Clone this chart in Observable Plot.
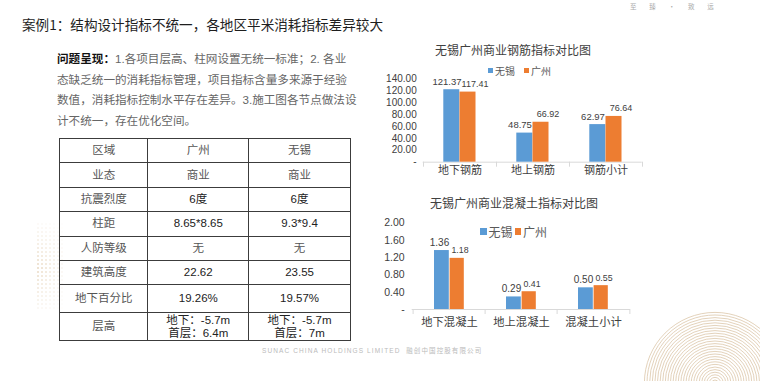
<!DOCTYPE html>
<html><head><meta charset="utf-8">
<script src="https://cdn.jsdelivr.net/npm/d3@7"></script>
<script src="https://cdn.jsdelivr.net/npm/@observablehq/plot@0.6"></script>
<style>
html,body{margin:0;padding:0;}
body{width:760px;height:381px;overflow:hidden;background:#fff;position:relative;font-family:"Liberation Sans","Noto Sans CJK SC",sans-serif;}
.abs{position:absolute;}
#title{left:22px;top:14px;font-size:13.6px;color:#1e1e1e;white-space:nowrap;font-family:"Noto Sans CJK SC",sans-serif;}
#para{left:57px;top:48px;width:285px;font-size:11.6px;line-height:20.6px;color:#666;}
#para div{text-align:justify;text-align-last:justify;white-space:nowrap;}
#para div.last{text-align-last:left;}
#para b{color:#111;font-family:"Noto Sans CJK SC",sans-serif;}
#tbl{left:59px;top:138px;border-collapse:collapse;width:292px;font-size:11.5px;}
#tbl td{border:1px solid #3c3c3c;text-align:center;padding:0;color:#555;line-height:13px;}
#tbl td.num{color:#222;}
.ctitle{font-size:12px;color:#404040;white-space:nowrap;font-family:"Noto Sans CJK SC",sans-serif;transform:translateX(-50%);}
.leg{white-space:nowrap;color:#595959;font-family:"Noto Sans CJK SC",sans-serif;}
.leg span.sw{display:inline-block;vertical-align:middle;}
#footer{left:262px;top:345px;font-size:6.5px;color:#bbb;letter-spacing:1.1px;white-space:nowrap;}
</style></head><body>
<div id="title" class="abs">案例1：结构设计指标不统一，各地区平米消耗指标差异较大</div>
<div id="motto"></div>
<div id="para" class="abs">
<div><b>问题呈现：</b>1.各项目层高、柱网设置无统一标准；2. 各业</div>
<div>态缺乏统一的消耗指标管理，项目指标含量多来源于经验</div>
<div>数值，消耗指标控制水平存在差异。3.施工图各节点做法设</div>
<div class="last">计不统一，存在优化空间。</div>
</div>
<svg id="dots" class="abs" style="left:36px;top:222px" width="30" height="90"></svg>
<svg id="arcs" class="abs" style="left:630px;top:300px" width="130" height="81"></svg>
<table id="tbl" class="abs"></table>
<div id="t1" class="abs ctitle" style="left:513px;top:41px;">无锡广州商业钢筋指标对比图</div>
<div id="leg1" class="abs leg" style="left:488px;top:61px;font-size:10px;"></div>
<div id="chart1" class="abs" style="left:370px;top:70px;"></div>
<div id="t2" class="abs ctitle" style="left:514px;top:194px;">无锡广州商业混凝土指标对比图</div>
<div id="leg2" class="abs leg" style="left:480px;top:221px;font-size:12px;"></div>
<div id="chart2" class="abs" style="left:370px;top:215px;"></div>
<div id="footer" class="abs">SUNAC CHINA HOLDINGS LIMITED &nbsp;融创中国控股有限公司</div>
<script>
// ---- data ----
const seriesNames = ["无锡", "广州"];
const seriesColors = ["#5B9BD5", "#ED7D31"];

const rebarCategories = ["地下钢筋", "地上钢筋", "钢筋小计"];
const rebarWuxi = [121.37, 48.75, 62.97];
const rebarGuangzhou = [117.41, 66.92, 76.64];
const rebarTicks = [0, 20, 40, 60, 80, 100, 120, 140];

const concreteCategories = ["地下混凝土", "地上混凝土", "混凝土小计"];
const concreteWuxi = [1.36, 0.29, 0.50];
const concreteGuangzhou = [1.18, 0.41, 0.55];
const concreteTicks = [0, 0.4, 0.8, 1.2, 1.6, 2.0];

const tableHeader = ["区域", "广州", "无锡"];
const tableRows = [
  ["业态", "商业", "商业"],
  ["抗震烈度", "6度", "6度"],
  ["柱距", "8.65*8.65", "9.3*9.4"],
  ["人防等级", "无", "无"],
  ["建筑高度", "22.62", "23.55"],
  ["地下百分比", "19.26%", "19.57%"],
  ["层高", "地下：-5.7m<br>首层：6.4m", "地下：-5.7m<br>首层：7m"]
];
const mottoChars = ["至", "臻", "·", "致", "远"];

// ---- motto ----
document.getElementById("motto").innerHTML = mottoChars.map((c, i) =>
  `<span class="abs" style="left:${630 + i * 19.3}px;top:1px;font-size:6.5px;color:#aaa;font-family:'Noto Sans CJK SC',sans-serif">${c}</span>`).join("");

// ---- table ----
const rowHeights = [24.4, 24.4, 24.4, 24.6, 24.3, 24.2, 27.7, 28.3];
const colWidths = [88.7, 100.6, 101.7];
const tbl = document.getElementById("tbl");
[tableHeader, ...tableRows].forEach((r, i) => {
  const tr = document.createElement("tr");
  tr.style.height = rowHeights[i] + "px";
  r.forEach((c, j) => {
    const td = document.createElement("td");
    td.innerHTML = c;
    td.style.width = colWidths[j] + "px";
    if (/[0-9]/.test(c)) td.className = "num";
    tr.appendChild(td);
  });
  tbl.appendChild(tr);
});

// ---- legends ----
function legend(id, sw, gap) {
  const el = document.getElementById(id);
  el.innerHTML = seriesNames.map((n, i) =>
    `<span class="sw" style="width:${sw}px;height:${sw}px;background:${seriesColors[i]};margin-right:2px;"></span><span style="vertical-align:middle;margin-right:${gap}px">${n}</span>`
  ).join("");
}
legend("leg1", 5, 9);
legend("leg2", 6.5, 2);

// ---- charts ----
const numFont = "'Liberation Sans',sans-serif";
function barChart(cfg) {
  const rows = cfg.categories.flatMap((c, i) => [
    {cat: c, series: seriesNames[0], value: cfg.wuxi[i]},
    {cat: c, series: seriesNames[1], value: cfg.guangzhou[i]}
  ]);
  const step = (cfg.width - cfg.marginLeft - cfg.marginRight) / cfg.categories.length;
  const gray = "#D9D9D9";
  const s0 = rows.filter(d => d.series === seriesNames[0]);
  const s1 = rows.filter(d => d.series === seriesNames[1]);
  return Plot.plot({
    width: cfg.width, height: cfg.height,
    marginTop: cfg.marginTop, marginBottom: cfg.marginBottom,
    marginLeft: cfg.marginLeft, marginRight: cfg.marginRight,
    style: {fontFamily: "'Noto Sans CJK SC',sans-serif", background: "transparent", overflow: "visible"},
    x: {domain: cfg.categories, padding: 0, axis: null},
    y: {domain: [0, cfg.yMax], axis: null},
    marks: [
      Plot.ruleY([0], {stroke: gray}),
      Plot.ruleX(cfg.categories, {x: d => d, y1: () => 0, y2: () => 0, insetBottom: -5, dx: -step / 2, stroke: gray}),
      Plot.ruleX(cfg.categories.slice(-1), {x: d => d, y1: () => 0, y2: () => 0, insetBottom: -5, dx: step / 2, stroke: gray}),
      Plot.axisY(cfg.ticks, {tickSize: 0, tickPadding: cfg.yPad, label: null, tickFormat: d => d === 0 ? "-" : d.toFixed(2),
        fontSize: cfg.yFont, fontFamily: numFont, color: "#404040"}),
      Plot.axisX({tickSize: 0, tickPadding: cfg.xPad, label: null, fontSize: cfg.xFont, color: "#404040"}),
      Plot.barY(s0, {x: "cat", y: "value", fill: seriesColors[0], insetLeft: cfg.inset[0], insetRight: cfg.inset[1]}),
      Plot.barY(s1, {x: "cat", y: "value", fill: seriesColors[1], insetLeft: cfg.inset[2], insetRight: cfg.inset[3]}),
      Plot.text(s0, {x: "cat", y: "value", text: d => d.value.toFixed(2), dx: cfg.labelDx[0], dy: -5, lineAnchor: "bottom",
        fontSize: cfg.labelFont[0], fontFamily: numFont, fill: "#404040"}),
      Plot.text(s1, {x: "cat", y: "value", text: d => d.value.toFixed(2), dx: cfg.labelDx[1], dy: -5, lineAnchor: "bottom",
        fontSize: cfg.labelFont[1], fontFamily: numFont, fill: "#404040"})
    ]
  });
}

document.getElementById("chart1").appendChild(barChart({
  categories: rebarCategories, wuxi: rebarWuxi, guangzhou: rebarGuangzhou, ticks: rebarTicks, yMax: 140,
  width: 280, height: 115, marginTop: 8.1, marginBottom: 23.3, marginLeft: 52.7, marginRight: 8.3,
  yPad: 6.5, xPad: 4, yFont: 10, xFont: 11, inset: [20.3, 36.7, 36.5, 20.5], labelDx: [-13, 15], labelFont: [9.5, 9]
}));

document.getElementById("chart2").appendChild(barChart({
  categories: concreteCategories, wuxi: concreteWuxi, guangzhou: concreteGuangzhou, ticks: concreteTicks, yMax: 2,
  width: 270, height: 120, marginTop: 7.3, marginBottom: 26, marginLeft: 41.7, marginRight: 10,
  yPad: 7.5, xPad: 8, yFont: 10.5, xFont: 11.3, inset: [21, 36.2, 36.6, 21.2], labelDx: [-10, 10.5], labelFont: [10, 8.8]
}));

// ---- decorations ----
const arcs = document.getElementById("arcs");
let a = "";
for (let r = 3; r <= 72; r += 2.6) a += `<circle cx="85" cy="83" r="${r}" fill="none" stroke="#DCC7AA" stroke-width="0.8"/>`;
arcs.innerHTML = a;
const dots = document.getElementById("dots");
let dd = "";
for (let i = 0; i < 7; i++) for (let j = 0; j < 22; j++) {
  const op = Math.max(0, 0.8 - i * 0.1) * (1 - Math.abs(j - 11) / 13);
  dd += `<circle cx="${2 + i * 4}" cy="${2 + j * 4}" r="1" fill="#E3CFB3" opacity="${op.toFixed(2)}"/>`;
}
dots.innerHTML = dd;
</script>
</body></html>
